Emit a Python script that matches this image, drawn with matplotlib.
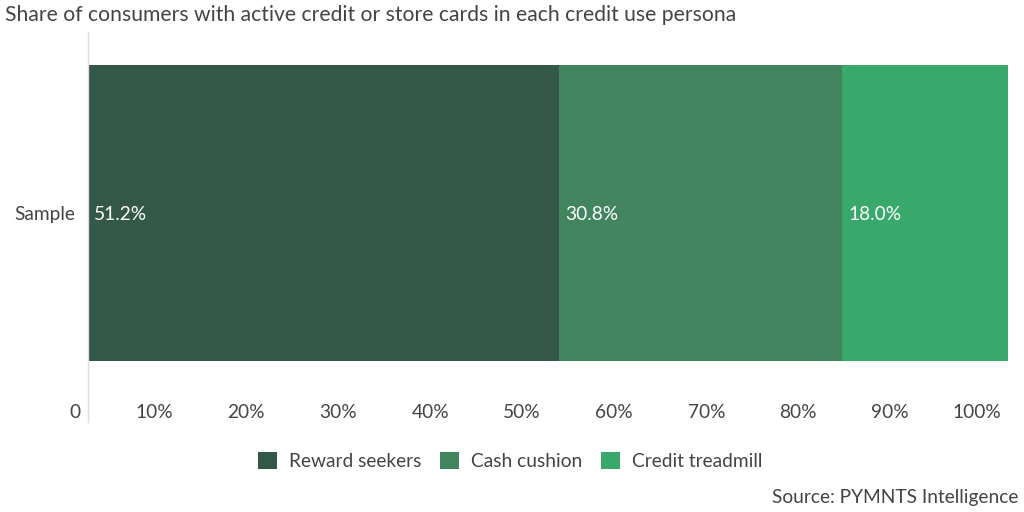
import matplotlib.pyplot as plt
from matplotlib.patches import Patch
from matplotlib import transforms

plt.rcParams['font.family'] = ['Lato', 'DejaVu Sans']

personas = ['Reward seekers', 'Cash cushion', 'Credit treadmill']
shares = [51.2, 30.8, 18.0]
colors = ['#345847', '#41845d', '#38a96a']
category = 'Sample'
ticks = [0, 10, 20, 30, 40, 50, 60, 70, 80, 90, 100]
tick_labels = ['0'] + [f'{t}%' for t in ticks[1:]]

TXT = '#444444'
FS = 13.8

fig = plt.figure(figsize=(10.24, 5.12), dpi=100)
ax = fig.add_axes([88/1024, 1 - 422/512, 920/1024, 390/512])

# text sits ~2px low relative to its box centre in the reference
down = transforms.ScaledTranslation(0, -2/100, fig.dpi_scale_trans)

left = 0
for name, val, col in zip(personas, shares, colors):
    ax.barh(0.536, val, left=left, height=0.759, color=col, edgecolor='none')
    ax.text(left, 0.536, f'{val:.1f}%', color='white', fontsize=FS,
            va='center', ha='left',
            transform=ax.transData + transforms.ScaledTranslation(6/100, -2/100, fig.dpi_scale_trans))
    left += val

ax.set_xlim(0, 100)
ax.set_ylim(0, 1)
ax.set_xticks([])
ax.set_yticks([])
for s in ['top', 'right', 'bottom']:
    ax.spines[s].set_visible(False)
ax.spines['left'].set_color('#dddddd')
ax.spines['left'].set_linewidth(1)

lab_tr = transforms.blended_transform_factory(ax.transData, ax.transAxes) + \
    transforms.ScaledTranslation(-7/100, -2/100, fig.dpi_scale_trans)
for t, lab in zip(ticks, tick_labels):
    ax.text(t, 11/390, lab, transform=lab_tr, ha='right', va='center',
            fontsize=FS, color=TXT)

ax.text(0, 0.536, category, ha='right', va='center', fontsize=FS, color=TXT,
        transform=ax.transData
        + transforms.ScaledTranslation(-13/100, -2/100, fig.dpi_scale_trans))

fig.text(5/1024, 1 - 15/512, 'Share of consumers with active credit or store cards in each credit use persona',
         ha='left', va='center', fontsize=15.2, color=TXT)

handles = [Patch(facecolor=c, edgecolor='none', label=p) for p, c in zip(personas, colors)]
fig.legend(handles=handles, loc='center', bbox_to_anchor=(510/1024, 1 - 461/512),
           ncol=3, frameon=False, fontsize=FS, handlelength=1.0, handleheight=1.0,
           handletextpad=0.6, columnspacing=1.0, labelcolor=TXT)

fig.text(1018/1024, 1 - 497/512, 'Source: PYMNTS Intelligence', ha='right', va='center',
         fontsize=FS, color=TXT)

fig.savefig('out.png', dpi=100)
